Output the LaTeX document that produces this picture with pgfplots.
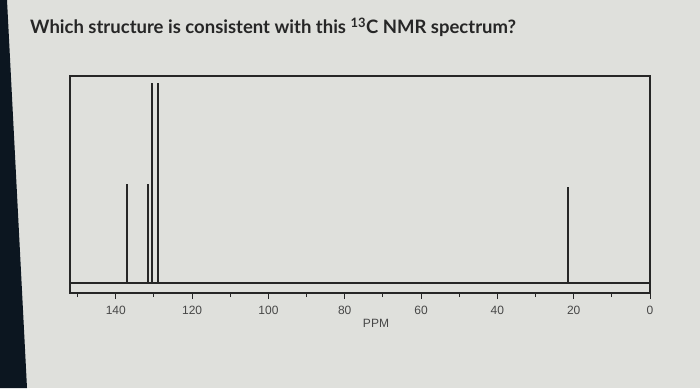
\documentclass[border=0pt]{standalone}
\usepackage{pgfplots}
\pgfplotsset{compat=1.18}
\usepackage{fontspec}
\setmainfont{Liberation Sans}
\newfontfamily\titlefont{Lato}
\definecolor{bg}{HTML}{DFE0DC}
\definecolor{ink}{HTML}{262626}
\definecolor{edge}{HTML}{0C1620}
\begin{document}
\begin{tikzpicture}[x=1pt,y=1pt]
\fill[bg] (0,0) rectangle (700,388);
\fill[edge] (0,0) -- (27,0) -- (7,388) -- (0,388) -- cycle;
\node[anchor=base west, font=\titlefont\bfseries\fontsize{18.5}{22}\selectfont, text=ink, inner sep=0] at (30,354) {Which structure is consistent with this \textsuperscript{13}C NMR spectrum?};
\begin{axis}[
 at={(70pt,95pt)}, anchor=south west,
 width=580pt, height=217pt, scale only axis,
 x dir=reverse, xmin=0, xmax=152, ymin=-0.048, ymax=1,
 xtick={0,20,...,140}, minor xtick={10,30,...,150},
 ytick=\empty, xtick pos=bottom, tick align=outside,
 major tick length=6pt, minor tick length=4pt,
 axis line style={ink, line width=1.4pt},
 every tick/.style={ink, line width=1pt},
 tick label style={font=\fontsize{12}{14}\selectfont, text=ink!85, yshift=-4pt},
 /pgf/number format/assume math mode=true,
 xlabel={PPM}, xlabel style={font=\fontsize{12}{14}\selectfont, text=ink!85, xshift=16pt, yshift=3pt},
 clip=false
]
\addplot[ink, line width=1.3pt] coordinates {(0,0) (152,0)};
\addplot[ycomb, ink, line width=1.8pt, no marks] coordinates {(137.0,0.48) (131.5,0.48) (130.5,0.965) (129.0,0.965) (21.4,0.465)};
\end{axis}
\end{tikzpicture}
\end{document}
